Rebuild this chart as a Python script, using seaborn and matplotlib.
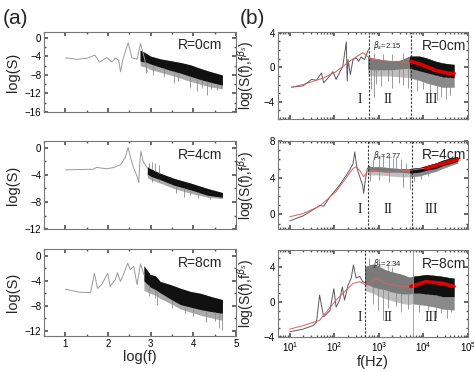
import numpy as np
import seaborn as sns
import matplotlib.pyplot as plt
from matplotlib.ticker import MultipleLocator

# ---- data (log10 of frequency, log of spectrum) ----
# (a) raw spectra, low-frequency sparse part
a0_f = [1.0, 1.26, 1.5, 1.69, 1.80, 1.97, 2.09, 2.17, 2.25, 2.29, 2.35, 2.47, 2.56, 2.68, 2.76, 2.85, 2.92]
a0_s = [-4.3, -4.6, -4.4, -3.7, -5.2, -4.25, -5.2, -4.3, -4.8, -7.3, -4.6, -1.0, -4.3, -4.6, -1.2, -4.3, -7.3]
a1_f = [1.0, 1.65, 1.73, 1.97, 2.13, 2.29, 2.40, 2.47, 2.52, 2.60, 2.68, 2.72, 2.74, 2.77, 2.82, 2.92]
a1_s = [-3.26, -3.16, -2.9, -3.1, -2.9, -2.5, -1.5, 0.05, -1.3, -3.0, -4.2, -5.1, -2.5, -0.5, -2.0, -3.0]
a2_f = [1.0, 1.30, 1.59, 1.68, 1.75, 1.85, 1.99, 2.05, 2.17, 2.22, 2.29, 2.36, 2.46, 2.52, 2.60, 2.68, 2.76, 2.84]
a2_s = [-5.33, -5.8, -5.9, -2.8, -5.2, -4.6, -2.8, -4.9, -3.8, -2.7, -4.1, -3.0, -1.2, -2.2, -1.7, -4.6, -1.3, -3.0]

# (a) noisy high-frequency part: top edge, dense core bottom, grey fringe bottom
a0_bf = [2.75, 2.91, 2.99, 3.22, 3.46, 3.70, 3.93, 4.17, 4.41, 4.68]
a0_hi = [-2.6, -3.4, -3.9, -4.5, -4.9, -5.3, -5.8, -6.6, -7.3, -8.0]
a0_clo = [-5.0, -5.3, -5.6, -6.3, -7.0, -7.6, -8.3, -9.0, -9.6, -10.2]
a0_lo = [-6.0, -6.4, -6.8, -7.4, -8.0, -8.7, -9.4, -10.0, -10.6, -11.0]
a0_pf = [2.9, 3.05, 3.3, 3.54, 3.65, 3.93, 4.09, 4.2, 4.33, 4.41, 4.55, 4.65]
a0_ps = [-7.6, -7.9, -8.5, -9.7, -9.2, -10.8, -11.4, -10.8, -12.3, -11.0, -11.3, -10.8]

a1_bf = [2.92, 3.0, 3.22, 3.54, 3.93, 4.33, 4.68]
a1_hi = [-2.8, -3.1, -3.75, -4.5, -5.2, -6.0, -6.6]
a1_clo = [-3.9, -4.2, -4.7, -5.5, -6.2, -7.0, -7.3]
a1_lo = [-4.4, -4.7, -5.2, -6.0, -6.7, -7.3, -7.5]
a1_uf = [2.96, 3.03, 3.11, 3.2]
a1_us = [-2.3, -2.1, -2.3, -2.6]
a1_pf = [3.03, 3.2, 3.6, 3.78, 3.93, 4.1, 4.4]
a1_ps = [-5.0, -5.1, -6.7, -7.2, -7.0, -7.4, -7.5]

a2_bf = [2.84, 2.99, 3.11, 3.22, 3.46, 3.70, 3.93, 4.17, 4.41, 4.68]
a2_hi = [-1.6, -3.0, -3.2, -4.1, -4.6, -5.2, -5.7, -6.0, -6.5, -7.0]
a2_clo = [-4.0, -5.0, -5.4, -5.9, -6.9, -7.8, -8.2, -8.6, -8.9, -9.2]
a2_lo = [-5.5, -6.0, -6.3, -6.8, -7.6, -8.5, -9.0, -9.5, -9.9, -10.3]
a2_pf = [2.95, 3.11, 3.15, 3.5, 3.8, 4.0, 4.3, 4.5, 4.61, 4.68]
a2_ps = [-6.4, -6.7, -7.8, -8.3, -9.1, -9.6, -10.5, -10.4, -11.5, -11.8]

# (b) compensated spectra S(f).f^beta, low-frequency part
b0_f = [1.04, 1.30, 1.49, 1.60, 1.71, 1.76, 1.88, 1.97, 2.04, 2.12, 2.19, 2.27, 2.29, 2.31, 2.36, 2.42, 2.49, 2.55, 2.60, 2.68, 2.77]
b0_s = [-2.3, -2.15, -1.4, -1.5, -0.66, -1.8, -1.1, -0.5, -1.4, -0.6, 0.1, 2.95, -1.6, 0.9, -0.85, 0.9, 1.1, 0.7, 1.2, 0.9, 2.1]
b1_f = [1.0, 1.30, 1.63, 1.67, 1.76, 1.90, 2.12, 2.34, 2.42, 2.46, 2.51, 2.58, 2.64, 2.66, 2.69, 2.74, 2.79]
b1_s = [-0.7, -0.15, 0.83, 1.0, 0.9, 1.9, 3.2, 4.8, 5.5, 6.8, 5.0, 4.0, 3.1, 2.3, 3.5, 5.0, 5.2]
b2_f = [1.0, 1.30, 1.52, 1.60, 1.67, 1.76, 1.90, 1.99, 2.04, 2.12, 2.18, 2.23, 2.31, 2.38, 2.43, 2.49, 2.57, 2.64, 2.72]
b2_s = [-3.4, -3.1, -2.7, -2.3, 0.77, -1.7, -1.0, 1.5, -0.6, 0.2, 1.7, 0.2, 1.9, 2.7, 4.2, 2.7, 2.9, 2.3, 2.1]

# (b) noisy part
b0_bf = [2.75, 2.86, 3.01, 3.24, 3.46, 3.69, 3.91, 4.06, 4.28, 4.43, 4.65, 4.69]
b0_hi = [1.2, 1.0, 0.93, 0.8, 0.8, 1.3, 1.3, 1.1, 0.7, 0.5, 0.35, 0.35]
b0_clo = [-0.2, -0.3, -0.3, -0.3, -0.2, -0.1, -0.4, -0.6, -0.9, -1.1, -1.2, -1.2]
b0_lo = [-0.8, -1.0, -1.0, -1.0, -1.1, -1.2, -1.5, -1.8, -2.1, -2.3, -2.3, -2.3]
b0_uf = [2.9, 3.1, 3.3, 3.55]
b0_us = [1.7, 1.6, 1.6, 1.7]
b0_pf = [2.82, 2.9, 2.94, 3.05, 3.2, 3.3, 3.45, 3.55, 3.65, 3.85, 4.0, 4.15, 4.3, 4.4, 4.5, 4.6]
b0_ps = [-2.5, -3.4, -1.9, -2.2, -1.6, -2.4, -1.8, -2.0, -2.4, -2.8, -2.5, -3.3, -3.8, -3.5, -3.7, -3.2]

b1_bf = [2.75, 2.86, 3.01, 3.24, 3.46, 3.69, 3.91, 4.06, 4.28, 4.43, 4.65, 4.77]
b1_hi = [5.3, 5.2, 5.2, 5.1, 5.0, 5.0, 5.1, 5.3, 5.6, 5.9, 6.2, 6.3]
b1_clo = [4.7, 4.7, 4.7, 4.6, 4.6, 4.5, 4.6, 4.8, 5.0, 5.3, 5.6, 5.8]
b1_lo = [4.3, 4.3, 4.3, 4.2, 4.1, 4.1, 4.2, 4.4, 4.7, 5.0, 5.4, 5.6]
b1_uf = [2.86, 3.01, 3.10, 3.24, 3.31, 3.39, 3.5, 3.6]
b1_us = [6.0, 6.4, 6.6, 6.5, 6.1, 6.3, 6.0, 5.6]
b1_pf = [2.8, 3.0, 3.24, 3.54, 3.69, 3.8, 3.95, 4.1]
b1_ps = [3.6, 3.8, 3.5, 3.0, 2.8, 3.6, 3.9, 4.2]

b2_bf = [2.68, 2.79, 2.86, 3.01, 3.13, 3.24, 3.39, 3.54, 3.69, 3.76, 3.91, 4.06, 4.28, 4.43, 4.65, 4.69]
b2_hi = [4.0, 4.2, 4.3, 4.0, 3.7, 3.5, 3.3, 3.1, 2.8, 2.9, 3.0, 3.1, 3.0, 2.9, 2.7, 2.7]
b2_clo = [2.0, 1.9, 1.7, 1.5, 1.4, 1.2, 1.0, 0.9, 0.9, 1.0, 1.0, 0.9, 0.8, 0.6, 0.6, 0.6]
b2_lo = [1.3, 1.1, 1.0, 0.6, 0.4, 0.2, 0.0, -0.2, -0.3, -0.2, -0.3, -0.4, -0.6, -0.8, -0.9, -0.9]
b2_uf = [2.79, 3.01, 3.2, 3.3]
b2_us = [5.0, 4.9, 4.3, 4.0]
b2_pf = [2.86, 2.98, 3.1, 3.2, 3.39, 3.5, 3.65, 3.91, 4.1, 4.28, 4.4, 4.54, 4.62]
b2_ps = [-0.2, -0.9, -2.1, -0.7, -0.5, -1.2, -0.8, -1.1, -0.9, -1.8, -1.3, -1.8, -1.2]

# red fitted curves
b0_rf = [1.04, 1.30, 1.75, 2.04, 2.34, 2.64, 2.79, 3.16, 3.57, 3.72, 3.97, 4.27, 4.57, 4.69]
b0_rs = [-2.3, -2.0, -1.25, -0.5, 0.7, 1.7, 1.1, 0.7, 0.6, 0.7, 0.3, -0.35, -0.7, -0.7]
b1_rf = [1.0, 1.30, 1.67, 2.04, 2.42, 2.49, 2.57, 2.66, 2.73, 2.84, 3.16, 3.69, 4.06, 4.43, 4.77]
b1_rs = [-0.25, 0.1, 0.9, 2.5, 5.0, 5.2, 4.8, 4.1, 4.6, 4.8, 4.6, 4.8, 5.05, 5.55, 6.0]
b2_rf = [1.0, 1.30, 1.67, 2.04, 2.42, 2.57, 2.72, 2.94, 3.16, 3.54, 3.72, 4.06, 4.43, 4.69]
b2_rs = [-3.1, -2.7, -2.1, 0.2, 2.1, 2.3, 1.9, 2.7, 2.1, 1.7, 1.75, 2.3, 2.1, 1.75]

# regime boundaries (log10 Hz) and exponents
b_cut1 = [2.77, 2.75, 2.68]
b_cut2 = [3.72, 3.74, 3.77]
betas = ["2.15", "2.77", "2.34"]
radii = ["R=0cm", "R=4cm", "R=8cm"]

sns.set_theme(style="ticks")
plt.rcParams['font.family'] = ['Liberation Sans', 'DejaVu Sans']
plt.rcParams['mathtext.fontset'] = 'dejavusans'

fig = plt.figure(figsize=(4.74, 3.72), dpi=100)

left_pos = [[0.093, 0.699, 0.405, 0.215],
            [0.093, 0.384, 0.405, 0.237],
            [0.093, 0.097, 0.405, 0.234]]
right_pos = [[0.586, 0.680, 0.401, 0.234],
             [0.586, 0.384, 0.401, 0.237],
             [0.586, 0.094, 0.401, 0.234]]
left_ylim = [(-16, 1.3), (-12, 1.0), (-12.8, 1.1)]
left_yticks = [[0, -4, -8, -12, -16], [0, -4, -8, -12], [0, -4, -8, -12]]
right_ylim = [(-6, 4.1), (-1.6, 8), (-4, 5.9)]
right_yticks = [[4, 0, -4], [8, 4, 0], [4, 0, -4]]

a_lines = [(a0_f, a0_s), (a1_f, a1_s), (a2_f, a2_s)]
a_bands = [(a0_bf, a0_hi, a0_clo, a0_lo), (a1_bf, a1_hi, a1_clo, a1_lo), (a2_bf, a2_hi, a2_clo, a2_lo)]
a_down = [(a0_pf, a0_ps), (a1_pf, a1_ps), (a2_pf, a2_ps)]
a_up = [([], []), (a1_uf, a1_us), ([], [])]
b_lines = [(b0_f, b0_s), (b1_f, b1_s), (b2_f, b2_s)]
b_bands = [(b0_bf, b0_hi, b0_clo, b0_lo), (b1_bf, b1_hi, b1_clo, b1_lo), (b2_bf, b2_hi, b2_clo, b2_lo)]
b_down = [(b0_pf, b0_ps), (b1_pf, b1_ps), (b2_pf, b2_ps)]
b_up = [(b0_uf, b0_us), (b1_uf, b1_us), (b2_uf, b2_us)]
b_red = [(b0_rf, b0_rs), (b1_rf, b1_rs), (b2_rf, b2_rs)]


def style_axes(ax):
    for sp in ax.spines.values():
        sp.set_color('#777777')
        sp.set_linewidth(0.8)
    ax.tick_params(which='both', direction='in', top=True, right=True,
                   colors='#555555', labelcolor='black', labelsize=7, pad=2)
    ax.tick_params(which='major', length=3)
    ax.tick_params(which='minor', length=1.5)


def draw_noise(ax, bf, hi, clo, lo, down, up, to_x, dense_from=None):
    # bf is log10(f); to_x maps it to the axis' x unit
    bf = np.array(bf)
    x = to_x(bf)
    if dense_from is None:
        ax.fill_between(x, lo, hi, color='#9a9a9a', lw=0, alpha=0.85)
        ax.fill_between(x, clo, hi, color='#111111', lw=0)
    else:
        ax.fill_between(x, lo, hi, color='#b4b4b4', lw=0, alpha=0.85)
        ax.fill_between(x, clo, hi, color='#7a7a7a', lw=0)
        dense = bf >= dense_from - 0.06
        ax.fill_between(x, lo, hi, where=dense, color='#8a8a8a', lw=0)
        ax.fill_between(x, clo, hi, where=dense, color='#111111', lw=0)
    pf, ps = down
    if len(pf):
        ax.vlines(to_x(np.array(pf)), ps, np.interp(pf, bf, clo), color='#8a8a8a', lw=0.6)
    uf, us = up
    if len(uf):
        ax.vlines(to_x(np.array(uf)), np.interp(uf, bf, hi), us, color='#8a8a8a', lw=0.6)


for i in range(3):
    # ---- panel (a) ----
    ax = fig.add_axes(left_pos[i])
    f, s = a_lines[i]
    sns.lineplot(x=f, y=s, ax=ax, color='#9a9a9a', lw=0.7, sort=False, estimator=None)
    draw_noise(ax, *a_bands[i], a_down[i], a_up[i], lambda v: v)
    ax.set_xlim(0.5, 5)
    ax.set_ylim(*left_ylim[i])
    ax.set_yticks(left_yticks[i])
    ax.xaxis.set_major_locator(MultipleLocator(1))
    ax.xaxis.set_minor_locator(MultipleLocator(0.5))
    ax.yaxis.set_minor_locator(MultipleLocator(2))
    style_axes(ax)
    ax.set_ylabel('log(S)', fontsize=10.5)
    ax.yaxis.set_label_coords(-0.125, 0.5)
    if i < 2:
        ax.tick_params(labelbottom=False)
    else:
        ax.set_xlabel('log(f)', fontsize=10.5, labelpad=1)
    ax.text(0.93, 0.84, radii[i], transform=ax.transAxes, ha='right', va='center', fontsize=10)

    # ---- panel (b) ----
    bx = fig.add_axes(right_pos[i])
    f, s = b_lines[i]
    hz = [10 ** v for v in f]
    sns.lineplot(x=hz, y=s, ax=bx, color='#5a5a5a', lw=0.7, sort=False, estimator=None)
    draw_noise(bx, *b_bands[i], b_down[i], b_up[i], lambda v: 10 ** v, dense_from=b_cut2[i])
    rf, rs = b_red[i]
    rhz = [10 ** v for v in rf]
    sns.lineplot(x=rhz, y=rs, ax=bx, color='#d86060', lw=0.7, sort=False, estimator=None)
    thick = [k for k, v in enumerate(rf) if v >= b_cut2[i] - 0.05]
    sns.lineplot(x=[rhz[k] for k in thick], y=[rs[k] for k in thick], ax=bx,
                 color='#e00000', lw=2.6, sort=False, estimator=None)
    bx.axvline(10 ** b_cut1[i], color='#333333', lw=0.8, ls=(0, (2, 1.5)))
    if i < 2:
        bx.axvline(10 ** b_cut2[i], color='#333333', lw=0.8, ls=(0, (2, 1.5)))
    else:
        bx.axvline(10 ** b_cut2[i], color='#999999', lw=0.6)
    bx.set_xscale('log')
    bx.set_xlim(10 ** 0.73, 1e5)
    bx.set_ylim(*right_ylim[i])
    bx.set_yticks(right_yticks[i])
    bx.yaxis.set_minor_locator(MultipleLocator(1))
    style_axes(bx)
    bx.set_ylabel(r'log(S(f),f$^{\beta_s}$)', fontsize=10)
    bx.yaxis.set_label_coords(-0.115, 0.5)
    if i < 2:
        bx.tick_params(labelbottom=False)
    else:
        bx.set_xlabel('f(Hz)', fontsize=10.5, labelpad=1)
    bx.text(0.99, 0.84, radii[i], transform=bx.transAxes, ha='right', va='center', fontsize=10)
    bx.text(0.50, 0.84, r'$\beta_s$=' + betas[i], transform=bx.transAxes,
            ha='left', va='center', fontsize=5.5)
    for lab, xpos in zip(['I', 'II', 'III'], [0.43, 0.58, 0.81]):
        bx.text(xpos, 0.22, lab, transform=bx.transAxes, ha='center', va='center',
                fontsize=10, family='Liberation Serif')

fig.text(0.005, 0.975, '(a)', fontsize=15, va='top', ha='left')
fig.text(0.505, 0.975, '(b)', fontsize=15, va='top', ha='left')

fig.savefig('out.png', dpi=100)
